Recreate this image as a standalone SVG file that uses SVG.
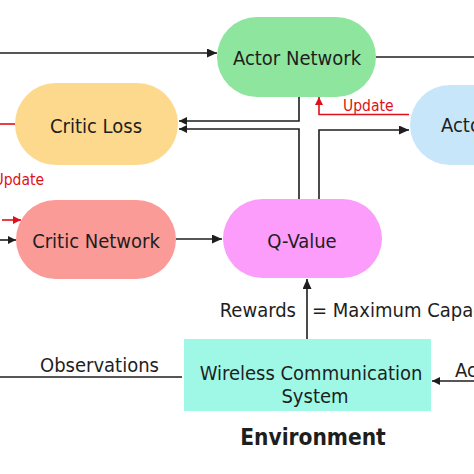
<svg xmlns="http://www.w3.org/2000/svg" width="474" height="474" viewBox="0 0 474 474">
<defs>
<style>
text{font-family:"DejaVu Sans Condensed","DejaVu Sans","Liberation Sans",sans-serif;font-stretch:condensed;fill:#1e1e1e;font-size:20px}
.lbl{text-anchor:middle}
.red{fill:#e0101a;font-size:15.5px}
.ln{fill:none;stroke:#1e1e1e;stroke-width:1.6}
.rl{fill:none;stroke:#e0101a;stroke-width:1.6}
.env{font-weight:bold;font-size:22.5px}
</style>
<marker id="ah" markerUnits="userSpaceOnUse" markerWidth="10" markerHeight="9" refX="10" refY="4.5" orient="auto"><path d="M0,0 L10,4.5 L0,9 z" fill="#1e1e1e"/></marker>
<marker id="ahs" markerUnits="userSpaceOnUse" markerWidth="8" markerHeight="8" refX="8" refY="4" orient="auto"><path d="M0,0 L8,4 L0,8 z" fill="#1e1e1e"/></marker>
<marker id="ar" markerUnits="userSpaceOnUse" markerWidth="8" markerHeight="8" refX="8" refY="4" orient="auto"><path d="M0,0 L8,4 L0,8 z" fill="#e0101a"/></marker>
</defs>
<rect width="474" height="474" fill="#ffffff"/>

<g id="connectors">
<line class="ln" x1="0" y1="53" x2="217" y2="53" marker-end="url(#ah)"/>
<line class="ln" x1="376" y1="57" x2="474" y2="57"/>
<polyline class="ln" points="299,97 299,121 179,121" marker-end="url(#ahs)"/>
<polyline class="ln" points="299,199 299,129 179,129" marker-end="url(#ahs)"/>
<polyline class="ln" points="319,199 319,130 409,130" marker-end="url(#ah)"/>
<line class="ln" x1="176" y1="239" x2="222" y2="239" marker-end="url(#ah)"/>
<line class="ln" x1="307" y1="339" x2="307" y2="279" marker-end="url(#ah)"/>
<line class="ln" x1="0" y1="377" x2="182" y2="377"/>
<line class="ln" x1="474" y1="381" x2="432" y2="381" marker-end="url(#ahs)"/>
<line class="ln" x1="0" y1="240" x2="16" y2="240" marker-end="url(#ahs)"/>
<polyline class="rl" points="409,114.5 319,114.5 319,97" marker-end="url(#ar)"/>
<line class="rl" x1="0" y1="124" x2="15" y2="124"/>
<line class="rl" x1="2" y1="220" x2="21" y2="220" marker-end="url(#ar)"/>
<text class="red" x="343" y="111">Update</text>
<text class="red" x="44" y="185" text-anchor="end">Update</text>
<text x="296" y="317" text-anchor="end">Rewards</text>
<text x="312" y="317">= Maximum Capacity</text>
<text x="40" y="372">Observations</text>
<text x="455" y="377">Actions</text>
</g>

<g id="actor-network">
<rect x="217" y="17" width="159" height="80" rx="40" fill="#8ee59e"/>
<text class="lbl" x="297" y="64.5">Actor Network</text>
</g>
<g id="critic-loss">
<rect x="15" y="83" width="163" height="82" rx="41" fill="#fdd98e"/>
<text class="lbl" x="96" y="133">Critic Loss</text>
</g>
<g id="actor">
<rect x="410" y="85" width="140" height="80" rx="40" fill="#c8e6fa"/>
<text x="441" y="132">Actor</text>
</g>
<g id="critic-network">
<rect x="16" y="200" width="160" height="79" rx="39.5" fill="#fb9b98"/>
<text class="lbl" x="96" y="248">Critic Network</text>
</g>
<g id="q-value">
<rect x="223" y="199" width="159" height="79" rx="39.5" fill="#fc9dfc"/>
<text class="lbl" x="302" y="248">Q-Value</text>
</g>
<g id="wireless">
<rect x="184" y="339" width="247" height="72" fill="#9ff8e6"/>
<text class="lbl" x="311" y="380">Wireless Communication</text>
<text class="lbl" x="315" y="403">System</text>
<text class="lbl env" x="313" y="445">Environment</text>
</g>
</svg>
